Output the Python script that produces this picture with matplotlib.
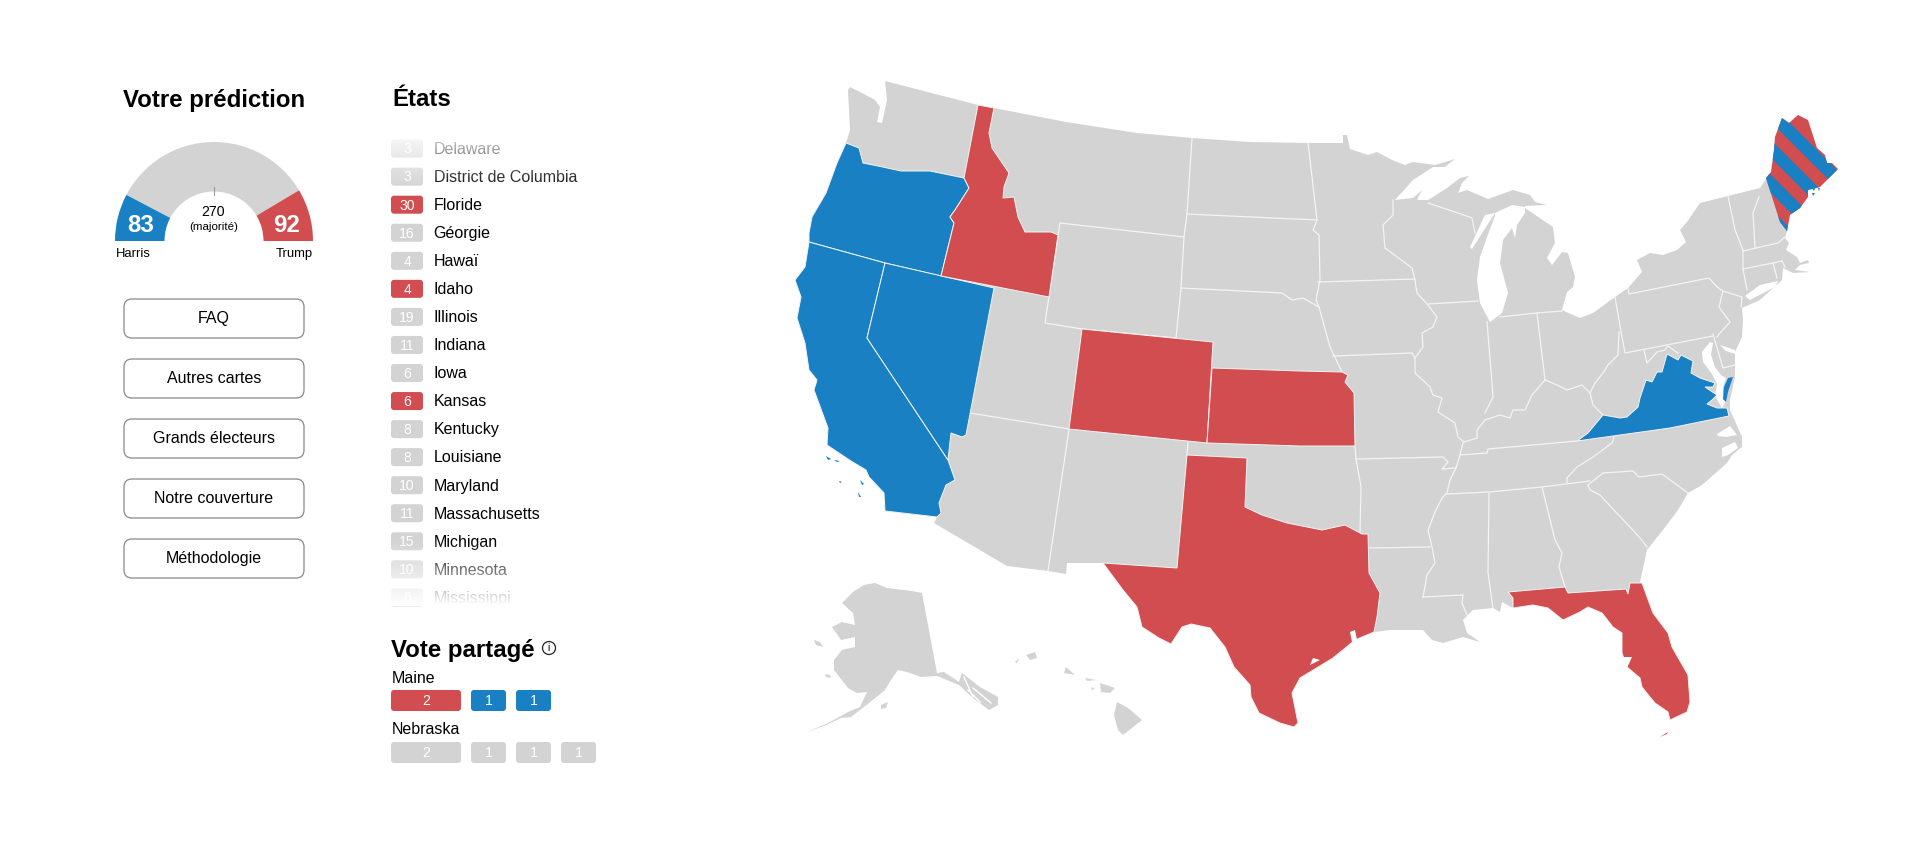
import numpy as np
import matplotlib
matplotlib.use("Agg")
import matplotlib.pyplot as plt
from matplotlib.patches import Polygon, Wedge, FancyBboxPatch, Circle

plt.rcParams["font.family"] = ["Liberation Sans", "DejaVu Sans"]

BLUE = "#1a80c4"
RED = "#d14d4f"
GRAY = "#d3d3d3"

## Donnees du panneau de gauche
harris_votes = 83
trump_votes = 92
total_votes = 538
menu_labels = ["FAQ", "Autres cartes", "Grands électeurs", "Notre couverture", "Méthodologie"]

state_names = ["Delaware", "District de Columbia", "Floride", "Géorgie", "Hawaï", "Idaho", "Illinois",
               "Indiana", "Iowa", "Kansas", "Kentucky", "Louisiane", "Maryland", "Massachusetts",
               "Michigan", "Minnesota", "Mississippi"]
state_votes = [3, 3, 30, 16, 4, 4, 19, 11, 6, 6, 8, 8, 10, 11, 15, 10, 6]
state_colors = [GRAY, GRAY, RED, GRAY, GRAY, RED, GRAY, GRAY, GRAY, RED, GRAY, GRAY, GRAY, GRAY, GRAY, GRAY, GRAY]

maine_votes = [2, 1, 1]
maine_colors = [RED, BLUE, BLUE]
nebraska_votes = [2, 1, 1, 1]
nebraska_colors = [GRAY, GRAY, GRAY, GRAY]

## Contours de la carte (pixels de l'image)
land = [(850,87),(862,93),(875,100),(880,107),(877,122),(882,123),(887,100),(885,81),(978,105),(994,108),
        (1066,122),(1137,133),(1192,138),(1250,142),(1308,143),(1343,143),(1343,135),(1347,135),(1350,149),
        (1368,155),(1377,152),(1392,160),(1405,165),(1413,162),(1435,165),(1455,159),(1445,167),(1433,167),
        (1413,180),(1395,200),(1413,198),(1422,190),(1417,200),(1428,200),(1447,188),(1460,178),(1469,176),
        (1462,183),(1458,193),(1467,190),(1488,199),(1513,190),(1530,195),(1535,202),(1547,205),(1525,206),
        (1525,208),(1553,227),(1555,243),(1547,258),(1552,265),(1562,252),(1568,253),(1575,277),(1573,287),
        (1567,292),(1562,310),(1573,315),(1580,318),(1593,313),
        (1615,297),(1628,288),(1642,272),(1637,260),(1650,253),(1663,255),(1677,250),(1686,242),(1680,230),
        (1687,222),(1700,203),(1728,196),(1760,188),(1766,179),(1787,231),(1785,238),(1789,243),(1786,250),
        (1797,257),(1800,263),(1808,260),(1809,263),(1800,265),(1795,270),(1810,272),(1793,273),(1783,268),
        (1782,280),(1760,300),(1742,308),(1743,320),(1742,337),(1735,352),(1735,377),(1730,400),(1730,410),
        (1742,437),(1742,447),(1732,455),(1727,463),(1702,485),(1688,493),(1678,510),(1663,530),(1647,550),
        (1640,582),(1643,587),(1653,613),(1668,633),(1672,647),(1688,675),(1690,702),(1687,712),(1670,720),
        (1668,712),(1655,703),(1650,697),(1642,687),(1640,678),(1627,667),(1622,653),(1622,633),(1613,627),
        (1602,613),(1588,607),(1580,612),(1563,620),(1548,608),(1533,605),(1513,608),(1502,602),(1500,612),
        (1493,608),(1473,610),(1463,620),(1467,633),(1480,642),(1463,637),(1443,643),(1432,640),(1423,630),
        (1413,630),(1390,630),(1375,632),(1355,640),(1333,658),(1300,678),(1292,693),(1298,723),(1294,727),
        (1280,723),(1259,713),(1251,697),(1250,685),(1234,667),(1225,647),(1210,628),(1191,624),(1182,627),
        (1171,644),(1159,638),(1142,627),(1137,607),(1123,590),(1103,563),(1067,563),(1066,574),(1048,571),
        (1007,566),(934,523),(937,517),(885,511),(884,493),(869,477),(866,470),(851,461),(827,445),(828,428),
        (814,390),(817,380),(809,370),(805,343),(797,318),(801,297),(795,280),(805,267),(809,247),(809,233),
        (812,217),(826,193),(837,163),(846,143),(850,130),(848,90)]

oregon = [(846,143),(859,148),(863,163),(878,166),(901,171),(930,171),(964,178),(969,188),(955,210),(950,217),
          (954,223),(941,276),(885,263),(809,242),(809,233),(812,217),(826,193),(837,163)]
idaho = [(978,105),(994,108),(989,133),(992,148),(1009,173),(1004,187),(1003,198),(1014,197),(1018,217),
         (1025,232),(1051,232),(1058,235),(1049,297),(941,276),(954,223),(950,217),(955,210),(969,188),(964,178)]
nevada = [(885,263),(994,288),(966,435),(962,437),(951,433),(948,460),(867,338)]
california = [(809,242),(885,263),(867,338),(948,460),(955,480),(946,485),(939,503),(941,513),(937,517),(885,511),
              (884,493),(869,477),(866,470),(851,461),(827,445),(828,428),(814,390),(817,380),(809,370),(805,343),
              (797,318),(801,297),(795,280),(805,267)]
colorado = [(1082,329),(1213,342),(1207,443),(1069,429)]
kansas = [(1212,368),(1300,371),(1342,372),(1348,375),(1345,382),(1354,393),(1355,446),(1300,446),(1207,443)]
texas = [(1187,455),(1247,458),(1245,507),(1262,515),(1287,523),(1312,528),(1322,530),(1345,525),(1362,534),
         (1368,534),(1369,573),(1380,593),(1377,617),(1374,632),(1355,640),(1333,658),(1300,678),(1292,693),
         (1298,723),(1294,727),(1280,723),(1259,713),(1251,697),(1250,685),(1234,667),(1225,647),(1210,628),
         (1191,624),(1182,627),(1171,644),(1159,638),(1142,627),(1137,607),(1123,590),(1103,563),(1177,568)]
florida = [(1508,592),(1565,587),(1568,593),(1626,589),(1628,594),(1630,583),(1642,583),(1653,613),(1668,633),
           (1672,647),(1688,675),(1690,702),(1687,712),(1670,720),(1668,712),(1655,703),(1650,697),(1642,687),
           (1640,678),(1627,667),(1622,653),(1622,633),(1613,627),(1602,613),(1588,607),(1580,612),(1563,620),
           (1548,608),(1533,605),(1513,608),(1513,598)]
virginia = [(1577,441),(1588,433),(1603,415),(1620,418),(1627,417),(1638,407),(1640,398),(1646,380),(1652,382),
            (1657,372),(1662,372),(1667,354),(1678,360),(1681,355),(1693,361),(1691,373),(1700,378),(1715,383),
            (1713,387),(1705,387),(1717,395),(1712,400),(1707,404),(1717,408),(1727,408),(1729,416),(1670,428),(1620,435)]
virginia_shore = [(1728,378),(1733,377),(1728,392),(1726,402),(1723,399),(1724,387)]
california_islands = [[(826,456),(831,459),(828,460)], [(834,460),(840,461),(837,462)], [(860,480),(864,484),(862,485)],
                      [(858,492),(861,497),(859,497)], [(839,481),(842,482),(840,483)]]
florida_keys = [[(1660,737),(1668,732),(1667,734)]]
maine = [(1782,118),(1789,123),(1798,115),(1808,120),(1817,148),(1825,155),(1827,163),(1832,163),(1838,169),
         (1832,175),(1820,187),(1808,190),(1808,197),(1800,208),(1790,215),(1787,231),(1780,222),(1766,178),
         (1771,172),(1774,150),(1775,137)]
maine_stripes = [-1658, -1622, -1587, -1553]
maine_islands = [[(1811,187),(1816,186),(1814,191)], [(1812,193),(1815,193),(1813,196)], [(1818,188),(1820,188),(1819,191)]]

alaska = [(875,583),(887,588),(912,591),(922,593),(937,673),(944,672),(959,682),(962,673),(980,687),(998,697),
          (998,705),(989,710),(973,698),(959,685),(937,676),(921,677),(907,672),(898,670),(891,680),(885,690),
          (869,703),(851,717),(841,718),(826,725),(805,733),(828,723),(848,712),(860,707),(867,692),(857,693),
          (848,688),(834,670),(834,660),(842,650),(855,647),(855,637),(841,640),(832,627),(842,622),(855,625),
          (853,613),(842,603),(853,592),(864,585)]
small_islands = [[(814,640),(820,642),(823,647),(816,645)], [(825,674),(830,675),(831,678),(826,677)],
                 [(881,705),(888,702),(886,708),(881,709)],
                 [(1117,702),(1128,708),(1142,720),(1123,735),(1118,730),(1114,715)],
                 [(1100,683),(1115,688),(1110,693),(1101,692)], [(1085,678),(1096,680),(1087,681)],
                 [(1091,687),(1095,689),(1092,690)], [(1066,667),(1075,675),(1064,673)],
                 [(1026,655),(1035,652),(1037,658),(1030,660)], [(1015,662),(1019,658),(1017,663)]]
alaska_channels = [[(964,677),(973,697)], [(973,688),(991,703)], [(968,690),(980,702)]]

lake_michigan = [(1495,213),(1512,205),(1525,207),(1525,213),(1517,225),(1515,238),(1512,228),(1503,240),(1500,263),
                 (1508,293),(1502,313),(1490,322),(1480,303),(1477,280),(1480,257),(1487,237),(1495,216)]
green_bay = [(1485,215),(1495,213),(1472,249),(1470,247)]
chesapeake = [(1710,342),(1713,343),(1711,355),(1715,367),(1721,375),(1726,378),(1723,387),(1723,399),(1726,402),
              (1722,408),(1715,396),(1717,384),(1712,374),(1703,362),(1702,352)]
delaware_bay = [(1720,345),(1735,350),(1735,354),(1726,351)]
long_island_sound = [(1745,296),(1760,285),(1778,281),(1775,287),(1750,300)]
albemarle_sound = [(1717,434),(1730,426),(1737,435),(1726,437),(1718,436)]
pamlico_sound = [(1722,448),(1735,442),(1738,448),(1728,455),(1722,457)]
sf_bay = [(814,347),(818,346),(817,363),(813,358)]
white_areas = [lake_michigan, green_bay, chesapeake, delaware_bay, long_island_sound, albemarle_sound, pamlico_sound, sf_bay]
galveston_bay = [(1350,632),(1355,630),(1357,640),(1352,642)]
matagorda_bay = [(1313,658),(1320,660),(1310,665)]
tampa_bay = [(1623,657),(1632,657),(1627,668)]
white_over_states = [galveston_bay, matagorda_bay, tampa_bay]

borders = [
    [(1060,223),(1184,237)],
    [(1060,223),(1045,323),(1082,329),(1176,338)],
    [(1192,138),(1187,214),(1184,237),(1181,288),(1176,338)],
    [(1187,214),(1317,220)],
    [(1181,288),(1282,293),(1292,300),(1303,298),(1319,307)],
    [(1308,143),(1312,177),(1317,220),(1313,230),(1319,235),(1320,280),(1316,300),(1319,307),(1330,347),(1342,372)],
    [(1318,282),(1415,279)],
    [(1333,356),(1412,353),(1415,358)],
    [(970,413),(1069,429)],
    [(1069,429),(1048,571)],
    [(1188,443),(1187,455)],
    [(1355,446),(1356,459),(1361,487),(1360,532)],
    [(1356,459),(1443,457),(1448,462),(1442,469),(1456,468)],
    [(1463,443),(1460,455),(1456,468),(1450,480),(1447,493),(1442,498),(1435,512),(1428,530),(1432,547),(1435,563),(1427,575),(1423,597)],
    [(1369,548),(1430,547)],
    [(1423,597),(1463,595),(1462,603),(1467,615)],
    [(1489,493),(1488,573),(1493,608)],
    [(1447,494),(1489,492),(1542,487),(1590,481)],
    [(1542,487),(1555,540),(1562,553),(1559,567),(1565,587)],
    [(1588,485),(1590,490),(1600,495),(1612,508),(1630,527),(1640,538),(1647,547)],
    [(1588,485),(1603,473),(1633,471),(1639,477),(1662,474),(1688,493)],
    [(1614,437),(1612,443),(1593,457),(1577,467),(1567,478),(1567,483)],
    [(1460,455),(1487,453),(1488,449),(1577,441)],
    [(1464,442),(1477,438),(1477,430),(1485,420),(1500,415),(1510,418),(1513,410),(1525,410),(1532,395),(1545,380),(1557,385),(1567,390),(1582,385),(1590,393),(1593,405),(1603,415)],
    [(1590,393),(1595,383),(1603,373),(1608,365),(1618,355),(1619,332)],
    [(1615,297),(1622,337),(1625,353),(1713,336)],
    [(1644,350),(1647,363),(1657,352),(1665,350),(1668,346),(1678,353)],
    [(1713,334),(1723,368),(1735,365)],
    [(1628,288),(1629,294),(1709,278),(1717,287),(1723,291),(1719,307),(1730,322),(1720,333),(1717,337)],
    [(1723,291),(1742,297),(1741,307)],
    [(1728,196),(1735,230),(1743,250),(1743,269),(1747,290)],
    [(1759,197),(1753,213),(1755,248)],
    [(1743,251),(1778,243),(1785,237)],
    [(1743,269),(1773,263),(1782,261)],
    [(1773,263),(1777,278)],
    [(1782,261),(1785,267)],
    [(1415,280),(1417,293),(1428,305),(1437,317),(1433,327),(1422,333),(1423,347),(1415,358),(1415,373),(1430,387),(1433,395),(1442,398),(1438,412),(1455,423),(1458,437),(1464,442)],
    [(1428,304),(1478,301)],
    [(1393,200),(1393,215),(1383,225),(1385,248),(1412,268),(1415,280)],
    [(1428,203),(1458,213),(1472,218),(1475,233)],
    [(1500,317),(1537,313),(1562,311)],
    [(1487,322),(1492,383),(1493,397),(1485,413)],
    [(1537,313),(1545,380)],
]

## Figure : un seul axe en pixels
fig = plt.figure(figsize=(19.13, 8.44), dpi=100)
ax = fig.add_axes([0, 0, 1, 1])


def fs(px):
    return px * 0.72


def badge(x, y, w, h, color, label):
    ax.add_patch(FancyBboxPatch((x, y), w, h, boxstyle="round,pad=0,rounding_size=3",
                                fc=color, ec="none", zorder=6))
    ax.text(x + w / 2, y + h / 2 + 0.8, str(label), color="white", fontsize=fs(14),
            ha="center", va="center", zorder=7)


# Jauge
cx, cy = 214, 241
blue_angle = harris_votes / total_votes * 180
red_angle = trump_votes / total_votes * 180
ax.add_patch(Wedge((cx, cy), 99, 180 + blue_angle, 360 - red_angle, width=49.5, fc=GRAY, ec="none"))
ax.add_patch(Wedge((cx, cy), 99, 180, 180 + blue_angle, width=49.5, fc=BLUE, ec="none"))
ax.add_patch(Wedge((cx, cy), 99, 360 - red_angle, 360, width=49.5, fc=RED, ec="none"))
ax.plot([cx, cx], [187, 195], color="#999999", lw=0.8)
ax.text(141, 226, str(harris_votes), color="white", fontsize=fs(24), fontweight="bold", ha="center", va="center")
ax.text(286, 226, str(trump_votes), color="white", fontsize=fs(24), fontweight="bold", ha="center", va="center")
ax.text(213, 212, "270", fontsize=fs(14), ha="center", va="center")
ax.text(214, 227.5, "(majorité)", fontsize=fs(11.5), ha="center", va="center")
ax.text(116, 254, "Harris", fontsize=fs(13), ha="left", va="center")
ax.text(312.5, 254, "Trump", fontsize=fs(13), ha="right", va="center")
ax.text(214, 100, "Votre prédiction", fontsize=fs(24), fontweight="bold", ha="center", va="center")

# Boutons
for i, label in enumerate(menu_labels):
    top = 299 + i * 60
    ax.add_patch(FancyBboxPatch((124, top), 180, 39, boxstyle="round,pad=0,rounding_size=8",
                                fc="white", ec="#888888", lw=0.9))
    ax.text(214, top + 19.5, label, fontsize=fs(16), ha="center", va="center")

# Liste des Etats
ax.text(392, 100, "États", fontsize=fs(24), fontweight="bold", ha="left", va="center")
for i, (name, votes, color) in enumerate(zip(state_names, state_votes, state_colors)):
    y = 148.6 + i * 28.05
    badge(391, y - 9, 32, 18, color, votes)
    ax.text(433.5, y + 0.8, name, fontsize=fs(16), ha="left", va="center", zorder=7)

# Degrades blancs haut et bas de la liste
fade_top = np.ones((60, 1, 4))
fade_top[:, :, 3] = np.linspace(0.85, 0, 60)[:, None]
ax.imshow(fade_top, extent=(385, 620, 190, 135), aspect="auto", zorder=8)
fade_bottom = np.ones((70, 1, 4))
fade_bottom[:, :, 3] = np.linspace(0, 1, 70)[:, None]
ax.imshow(fade_bottom, extent=(385, 620, 606, 540), aspect="auto", zorder=8, origin="upper")

# Vote partage
ax.text(391, 650, "Vote partagé", fontsize=fs(24), fontweight="bold", ha="left", va="center")
ax.add_patch(Circle((549, 648), 6.5, fc="white", ec="#222222", lw=0.9))
ax.text(549, 648, "i", fontsize=fs(10), ha="center", va="center")
ax.text(392, 678.5, "Maine", fontsize=fs(16), ha="left", va="center")
ax.text(392, 729.5, "Nebraska", fontsize=fs(16), ha="left", va="center")
x_starts = [391, 471, 516, 561]
widths = [70, 35, 35, 35]
for votes, color, x, w in zip(maine_votes, maine_colors, x_starts, widths):
    badge(x, 690, w, 21, color, votes)
for votes, color, x, w in zip(nebraska_votes, nebraska_colors, x_starts, widths):
    badge(x, 742, w, 21, color, votes)

# Carte
ax.add_patch(Polygon(land, closed=True, fc=GRAY, ec="none", zorder=1))
ax.add_patch(Polygon(alaska, closed=True, fc=GRAY, ec="none", zorder=1))
for island in small_islands:
    ax.add_patch(Polygon(island, closed=True, fc=GRAY, ec="none", zorder=1))
for area in white_areas:
    ax.add_patch(Polygon(area, closed=True, fc="white", ec="none", zorder=2))
for line in alaska_channels:
    xs, ys = zip(*line)
    ax.plot(xs, ys, color="white", lw=1.0, zorder=2)
for line in borders:
    xs, ys = zip(*line)
    ax.plot(xs, ys, color="#f4f4f4", lw=0.9, zorder=3, solid_joinstyle="round")

for shape, color in [(oregon, BLUE), (california, BLUE), (nevada, BLUE), (virginia, BLUE),
                     (idaho, RED), (colorado, RED), (kansas, RED), (texas, RED), (florida, RED)]:
    ax.add_patch(Polygon(shape, closed=True, fc=color, ec="#f4f4f4", lw=0.7, zorder=4))
ax.add_patch(Polygon(virginia_shore, closed=True, fc=BLUE, ec="none", zorder=4))
for island in california_islands + maine_islands:
    ax.add_patch(Polygon(island, closed=True, fc=BLUE, ec="none", zorder=4))
for island in florida_keys:
    ax.add_patch(Polygon(island, closed=True, fc=RED, ec="none", zorder=4))
for area in white_over_states:
    ax.add_patch(Polygon(area, closed=True, fc="white", ec="none", zorder=5))

# Maine : rayures rouges et bleues
maine_patch = Polygon(maine, closed=True, fc=RED, ec="none", zorder=4)
ax.add_patch(maine_patch)
for c in maine_stripes:
    stripe = Polygon([(1755, 1755 + c - 9), (1845, 1845 + c - 9), (1845, 1845 + c + 9), (1755, 1755 + c + 9)],
                     closed=True, fc=BLUE, ec="none", zorder=5)
    ax.add_patch(stripe)
    stripe.set_clip_path(maine_patch)

ax.set_xlim(0, 1913)
ax.set_ylim(844, 0)
ax.axis("off")
fig.savefig("out.png", dpi=100, facecolor="white")
plt.close()
